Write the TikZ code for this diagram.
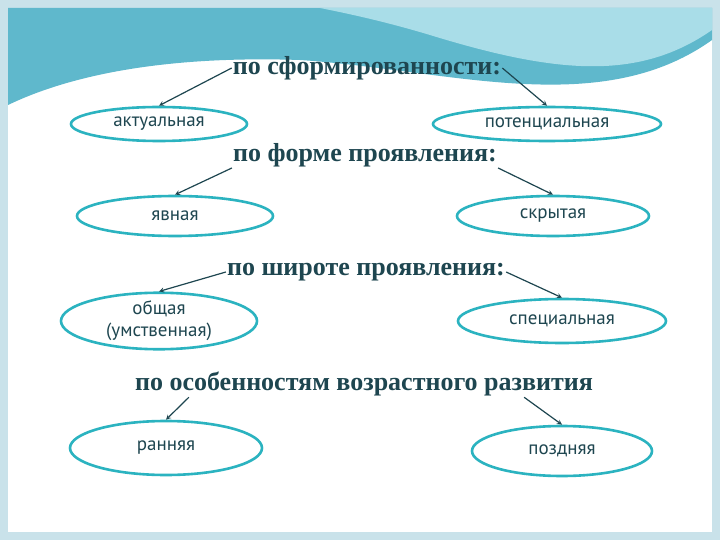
\documentclass[tikz,border=0pt]{standalone}
\usepackage{fontspec}
\setmainfont{Liberation Serif}
\newfontfamily\ovalfont{PT Sans}
\definecolor{tealtext}{HTML}{1E4650}
\definecolor{ovalline}{HTML}{2BB3C0}
\definecolor{wavedark}{HTML}{5FB8CC}
\definecolor{wavelight}{HTML}{A9DDE8}
\definecolor{framecol}{HTML}{C9E2EA}
\usetikzlibrary{shapes.geometric, arrows, positioning, calc}

\begin{document}
\begin{tikzpicture}[
        x=1pt, y=-1pt,
        oval/.style={ellipse, draw=ovalline, line width=2.6pt, fill=white, font=\ovalfont\fontsize{19}{22}\selectfont, text=tealtext, align=center, inner sep=0pt},
        heading/.style={font=\bfseries\fontsize{26}{30}\selectfont, text=tealtext, inner sep=1pt},
        line/.style={draw, line width=1.2pt, color=tealtext, ->, >=stealth}
    ]
        \useasboundingbox (0,0) rectangle (720,540);
        % Background
        \fill[framecol] (0,0) rectangle (720,540);
        \fill[white] (8,8) rectangle (712,532);
        \fill[wavedark] (8,8) -- (712,8) -- (712,40) .. controls (600,120) and (450,70) .. (300,60) .. controls (150,55) and (60,80) .. (8,105) -- cycle;
        \fill[wavelight] (320,8) -- (712,8) -- (712,30) .. controls (640,80) and (560,75) .. (430,35) .. controls (380,20) and (340,12) .. (320,8) -- cycle;

        % Headings
        \node [heading] (form) at (367,68) {по сформированности:};
        \node [heading] (manif) at (365,155) {по форме проявления:};
        \node [heading] (width) at (366,272) {по широте проявления:};
        \node [heading] (age) at (364,384) {по особенностям возрастного развития};

        % Ovals
        \node [oval, minimum width=176, minimum height=34] (actual) at (159,124) {актуальная};
        \node [oval, minimum width=228, minimum height=34] (potent) at (547,124) {потенциальная};
        \node [oval, minimum width=196, minimum height=40] (overt) at (175,216) {явная};
        \node [oval, minimum width=192, minimum height=40] (hidden) at (553,216) {скрытая};
        \node [oval, minimum width=196, minimum height=56] (general) at (159,321) {общая\\(умственная)};
        \node [oval, minimum width=208, minimum height=44] (special) at (562,321) {специальная};
        \node [oval, minimum width=192, minimum height=54] (early) at (166,448) {ранняя};
        \node [oval, minimum width=180, minimum height=50] (late) at (562,451) {поздняя};

        % Connections
        \draw [line] (form.west) -- (actual.north);
        \draw [line] (form.east) -- (potent.north);
        \draw [line] (manif.south west) -- (overt.north);
        \draw [line] (manif.south east) -- (hidden.north);
        \draw [line] (width.west) -- (general.north);
        \draw [line] (width.east) -- (special.north);
        \draw [line] ($(age.south west)+(55,0)$) -- (early.north);
        \draw [line] ($(age.south east)+(-70,0)$) -- (late.north);
\end{tikzpicture}
\end{document}
